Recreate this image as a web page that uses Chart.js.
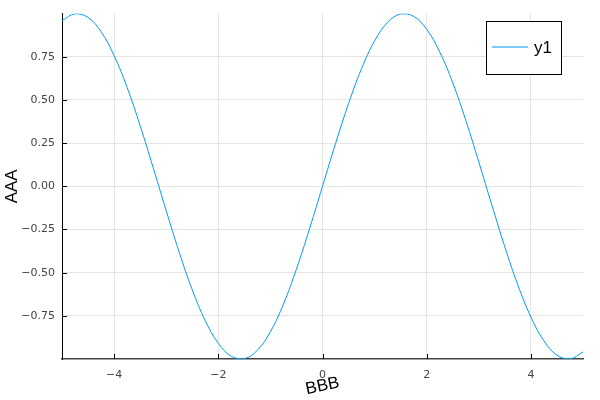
<!DOCTYPE html>
<html>
<head>
<meta charset="utf-8">
<script src="https://cdn.jsdelivr.net/npm/chart.js@4"></script>
<style>
  html, body { margin: 0; padding: 0; background: #fff; }
  #wrap { width: 600px; height: 400px; position: relative; }
</style>
</head>
<body>
<div id="wrap"><canvas id="plot"></canvas></div>
<script>
// Data
const xValues = [-5, -4.75, -4.5, -4.25, -4, -3.75, -3.5, -3.25, -3, -2.75, -2.5, -2.25, -2, -1.75, -1.5, -1.25, -1, -0.75, -0.5, -0.25,
    0, 0.25, 0.5, 0.75, 1, 1.25, 1.5, 1.75, 2, 2.25, 2.5, 2.75, 3, 3.25, 3.5, 3.75, 4, 4.25, 4.5, 4.75, 5];
const y1Values = [0.959, 0.999, 0.978, 0.895, 0.757, 0.572, 0.351, 0.108, -0.141, -0.382, -0.599, -0.778, -0.909, -0.984, -0.998, -0.949, -0.842, -0.682, -0.479, -0.247,
    0, 0.247, 0.479, 0.682, 0.842, 0.949, 0.998, 0.984, 0.909, 0.778, 0.599, 0.382, 0.141, -0.108, -0.351, -0.572, -0.757, -0.895, -0.978, -0.999, -0.959];
const xTicks = [-4, -2, 0, 2, 4];
const yTicks = [-0.75, -0.5, -0.25, 0, 0.25, 0.5, 0.75];
const seriesName = 'y1';
const xTitle = 'BBB';
const yTitle = 'AAA';

const lineColor = '#009AFA';
const fmtX = (v) => (v < 0 ? '\u2212' + Math.abs(v) : String(v));
const fmtY = (v) => (v < 0 ? '\u2212' : '') + Math.abs(v).toFixed(2);

// Inward tick marks, rotated axis titles and the framed legend
const decorations = {
    id: 'decorations',
    afterDraw(chart) {
        const { ctx, chartArea, scales } = chart;
        ctx.save();
        ctx.strokeStyle = '#000';
        ctx.lineWidth = 1;
        ctx.beginPath();
        yTicks.forEach(v => {
            const py = Math.round(scales.y.getPixelForValue(v)) + 0.5;
            ctx.moveTo(chartArea.left, py);
            ctx.lineTo(chartArea.left + 5, py);
        });
        xTicks.forEach(v => {
            const px = Math.round(scales.x.getPixelForValue(v)) + 0.5;
            ctx.moveTo(px, chartArea.bottom);
            ctx.lineTo(px, chartArea.bottom - 5);
        });
        ctx.stroke();

        // axis titles
        ctx.fillStyle = '#000';
        ctx.font = '17px "Liberation Sans", sans-serif';
        ctx.textAlign = 'center';
        ctx.textBaseline = 'middle';
        ctx.save();
        ctx.translate(12, (chartArea.top + chartArea.bottom) / 2);
        ctx.rotate(-Math.PI / 2);
        ctx.fillText(yTitle, 0, 0);
        ctx.restore();
        ctx.save();
        ctx.translate((chartArea.left + chartArea.right) / 2, 386);
        ctx.rotate(-0.21);
        ctx.fillText(xTitle, 0, 0);
        ctx.restore();

        // legend
        const bx = 486.5, by = 21.5, bw = 75, bh = 53;
        ctx.fillStyle = '#fff';
        ctx.fillRect(bx, by, bw, bh);
        ctx.strokeStyle = '#000';
        ctx.strokeRect(bx, by, bw, bh);
        ctx.strokeStyle = lineColor;
        ctx.beginPath();
        ctx.moveTo(492, 47);
        ctx.lineTo(528, 47);
        ctx.stroke();
        ctx.fillStyle = '#000';
        ctx.textAlign = 'left';
        ctx.fillText(seriesName, 534, 48);
        ctx.restore();
    }
};

const ctx = document.getElementById('plot').getContext('2d');
new Chart(ctx, {
    type: 'line',
    data: {
        datasets: [{
            label: seriesName,
            data: xValues.map((x, i) => ({ x: x, y: y1Values[i] })),
            borderColor: lineColor,
            borderWidth: 1,
            pointRadius: 0,
            tension: 0.4,
            fill: false
        }]
    },
    options: {
        responsive: true,
        maintainAspectRatio: false,
        animation: false,
        layout: { padding: { top: 11, right: 17, left: 0, bottom: 0 } },
        plugins: {
            legend: { display: false },
            tooltip: { enabled: false }
        },
        scales: {
            x: {
                type: 'linear',
                min: -5,
                max: 5,
                afterBuildTicks: (scale) => { scale.ticks = xTicks.map(v => ({ value: v })); },
                afterFit: (scale) => { scale.height = 41; },
                grid: { color: 'rgba(0,0,0,0.1)', drawTicks: false },
                border: { color: '#444', width: 1.5 },
                ticks: {
                    color: '#444',
                    font: { size: 11, family: '"DejaVu Sans", sans-serif' },
                    padding: 10,
                    maxRotation: 0,
                    callback: (v) => fmtX(v)
                }
            },
            y: {
                type: 'linear',
                min: -1,
                max: 1,
                afterBuildTicks: (scale) => { scale.ticks = yTicks.map(v => ({ value: v })); },
                afterFit: (scale) => { scale.width = 62; },
                grid: { color: 'rgba(0,0,0,0.1)', drawTicks: false },
                border: { color: '#000', width: 1 },
                ticks: {
                    color: '#444',
                    font: { size: 11, family: '"DejaVu Sans", sans-serif' },
                    padding: 7,
                    callback: (v) => fmtY(v)
                }
            }
        }
    },
    plugins: [decorations]
});
</script>
</body>
</html>
